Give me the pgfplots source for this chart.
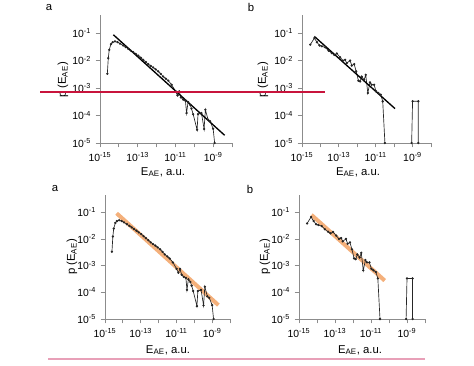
\documentclass[border=0pt]{standalone}
\usepackage{pgfplots}
\pgfplotsset{compat=1.18}
\usepackage{pgfplotstable}
\usepackage{fontspec}
\setmainfont{Liberation Sans}
\definecolor{axgray}{HTML}{8C8C8C}
\definecolor{redline}{HTML}{C8143C}
\definecolor{pinkline}{HTML}{E8A0B8}
\definecolor{fitorange}{HTML}{F2A264}

\pgfplotstableread{
x y
2.45e-15 3.31e-3
2.75e-15 1.23e-2
3.09e-15 2.45e-2
3.80e-15 3.98e-2
4.68e-15 4.68e-2
6.17e-15 5.01e-2
8.51e-15 4.68e-2
1.15e-14 4.17e-2
1.70e-14 3.55e-2
2.30e-14 3.10e-2
3.16e-14 2.69e-2
4.20e-14 2.35e-2
5.75e-14 2.04e-2
7.80e-14 1.76e-2
1.07e-13 1.51e-2
1.45e-13 1.27e-2
1.95e-13 1.07e-2
2.70e-13 8.90e-3
3.63e-13 7.41e-3
4.90e-13 6.40e-3
6.61e-13 5.62e-3
9.00e-13 4.80e-3
1.23e-12 4.07e-3
1.66e-12 3.30e-3
2.24e-12 2.63e-3
3.10e-12 2.20e-3
4.17e-12 1.86e-3
6.31e-12 1.32e-3
1.02e-11 7.59e-4
1.29e-11 5.37e-4
1.58e-11 7.59e-4
1.95e-11 4.57e-4
2.57e-11 3.80e-4
3.39e-11 3.47e-4
3.89e-11 1.23e-4
4.68e-11 3.09e-4
6.03e-11 2.45e-4
7.08e-11 1.78e-4
8.71e-11 1.12e-4
1.41e-10 3.02e-5
1.58e-10 1.12e-4
2.40e-10 1.23e-4
3.31e-10 3.24e-5
3.89e-10 1.62e-4
5.37e-10 7.08e-5
6.92e-10 6.17e-5
1.00e-9 3.31e-5
1.20e-9 1.00e-5
}\dataA

\pgfplotstableread{
x y
2.82e-15 3.80e-2
4.68e-15 6.61e-2
6.46e-15 4.68e-2
8.91e-15 3.55e-2
1.20e-14 3.31e-2
1.82e-14 3.02e-2
2.75e-14 2.29e-2
4.17e-14 1.86e-2
5.62e-14 1.62e-2
7.76e-14 1.82e-2
1.17e-13 1.32e-2
1.66e-13 1.00e-2
2.19e-13 1.07e-2
2.69e-13 8.13e-3
4.07e-13 1.00e-2
5.01e-13 6.61e-3
6.76e-13 7.41e-3
8.71e-13 4.07e-3
1.15e-12 1.86e-3
1.41e-12 1.74e-3
1.74e-12 2.63e-3
2.34e-12 2.00e-3
2.88e-12 3.02e-3
3.72e-12 6.61e-4
4.90e-12 1.62e-3
6.03e-12 1.32e-3
8.13e-12 1.32e-3
1.05e-11 7.59e-4
1.38e-11 6.61e-4
1.86e-11 5.75e-4
2.40e-11 3.31e-4
3.16e-11 1.00e-5
nan nan
8.91e-10 1.00e-5
1.00e-9 3.31e-4
2.04e-9 3.31e-4
2.04e-9 1.00e-5
}\dataB

\pgfplotsset{
    scale only axis,
    xmin=1e-15, xmax=1e-8,
    ymin=1e-5, ymax=0.457,
    axis x line*=bottom, axis y line*=left,
    axis line style={axgray, line width=0.6pt, -},
    tick style={axgray, line width=0.6pt},
    tick align=outside,
    major tick length=3.2pt,
    xminorticks=false, yminorticks=false,
    xtick={1e-15,1e-14,1e-13,1e-12,1e-11,1e-10,1e-9,1e-8},
    xticklabels={10\textsuperscript{-15},,10\textsuperscript{-13},,10\textsuperscript{-11},,10\textsuperscript{-9},},
    ytick={1e-5,1e-4,1e-3,1e-2,1e-1},
    yticklabels={10\textsuperscript{-5},10\textsuperscript{-4},10\textsuperscript{-3},10\textsuperscript{-2},10\textsuperscript{-1}},
    ticklabel style={font=\fontsize{7.8}{9}\selectfont, text=black},
    xticklabel style={yshift=-0.5pt},
    unbounded coords=jump,
    clip=false,
}
\tikzset{datstyle/.style={black!85, line width=0.5pt, mark=*, mark size=0.6pt, mark options={solid, fill=black}}}

\begin{document}
\begin{tikzpicture}
\path[use as bounding box] (0,0) rectangle (355.5pt,273.75pt);

% Top-left (a)
\begin{loglogaxis}[at={(75pt,166.5pt)}, anchor=south west, width=99pt, height=96pt]
\addplot[datstyle] table {\dataA};
\addplot[black, line width=1pt, no marks] coordinates {(5.13e-15,8.71e-2) (4.07e-9,1.91e-5)};
\end{loglogaxis}

% Top-right (b)
\begin{loglogaxis}[at={(226.5pt,166.5pt)}, anchor=south west, width=96.75pt, height=96pt]
\addplot[datstyle] table {\dataB};
\addplot[black, line width=1pt, no marks] coordinates {(4.68e-15,7.59e-2) (1.12e-10,1.78e-4)};
\end{loglogaxis}

% Bottom-left (a)
\begin{loglogaxis}[at={(78.75pt,34.5pt)}, anchor=south west, width=93.75pt, height=93.3pt]
\addplot[fitorange, opacity=0.85, line width=3pt, no marks] coordinates {(4.47e-15,9.12e-2) (2.24e-9,3.31e-5)};
\addplot[datstyle] table {\dataA};
\end{loglogaxis}

% Bottom-right (b)
\begin{loglogaxis}[at={(224.25pt,34.5pt)}, anchor=south west, width=94.5pt, height=93.3pt]
\addplot[fitorange, opacity=0.85, line width=3pt, no marks] coordinates {(4.90e-15,7.94e-2) (5.75e-11,2.75e-4)};
\addplot[datstyle] table {\dataB};
\end{loglogaxis}

\tikzset{lab/.style={font=\fontsize{8.5}{10}\selectfont, inner sep=0pt}}
% panel letters
\node[lab] at (36.75pt,267.75pt) {a};
\node[lab] at (188.25pt,268.5pt) {b};
\node[lab] at (41.25pt,132pt) {a};
\node[lab] at (187.5pt,132pt) {b};
% x labels
\node[lab] at (122.25pt,144.75pt) {E\textsubscript{AE}, a.u.};
\node[lab] at (268.5pt,144.75pt) {E\textsubscript{AE}, a.u.};
\node[lab] at (126pt,11.25pt) {E\textsubscript{AE}, a.u.};
\node[lab] at (270pt,11.25pt) {E\textsubscript{AE}, a.u.};
% y labels
\node[lab, rotate=90] at (47.25pt,213.75pt) {p (E\textsubscript{AE})};
\node[lab, rotate=90] at (197.25pt,213.75pt) {p (E\textsubscript{AE})};
\node[lab, rotate=90] at (54pt,81pt) {p (E\textsubscript{AE})};
\node[lab, rotate=90] at (198.75pt,81pt) {p (E\textsubscript{AE})};

% decorative lines
\draw[redline, line width=1.5pt] (30pt,204.75pt) -- (243.75pt,204.75pt);
\draw[pinkline, line width=1.2pt] (36pt,4.5pt) -- (318.75pt,4.5pt);
\end{tikzpicture}
\end{document}
